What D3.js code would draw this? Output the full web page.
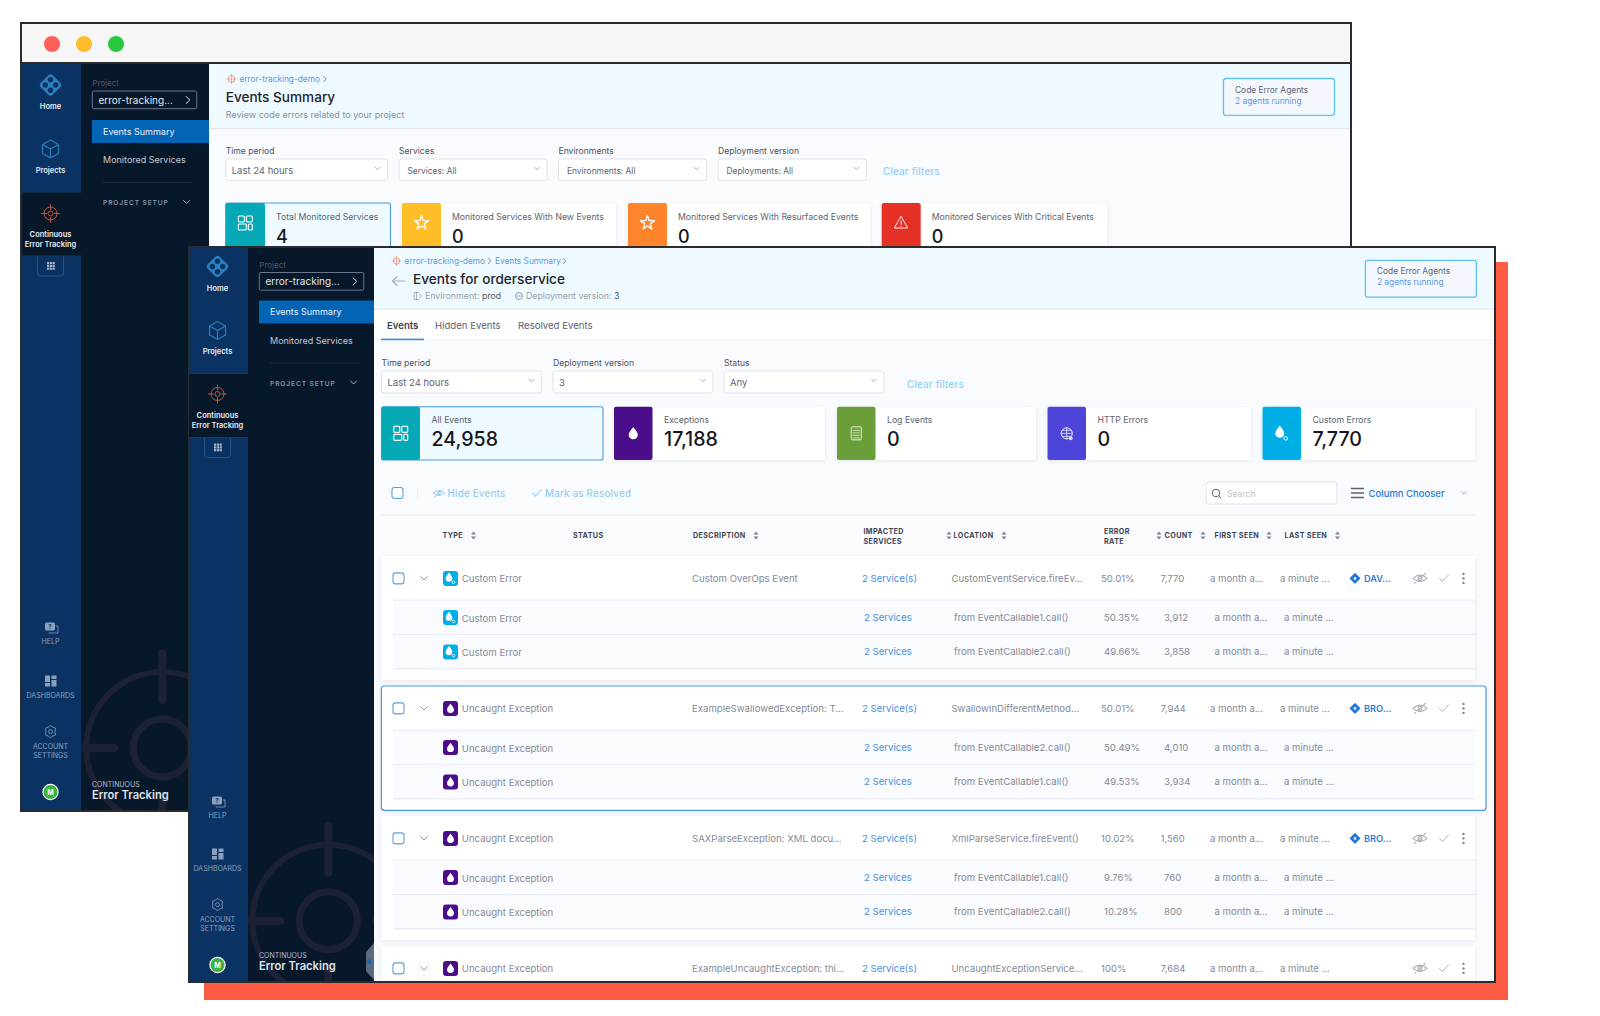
<!DOCTYPE html>
<html>
<head>
<meta charset="utf-8">
<script src="https://cdn.jsdelivr.net/npm/d3@7/dist/d3.min.js"></script>
<style>
  html, body { margin: 0; padding: 0; background: #fff; }
  text { font-family: Inter, "Noto Sans", sans-serif; }
  .lifted { filter: drop-shadow(0 1px 2px rgba(40, 50, 80, 0.1)); }
</style>
</head>
<body>
<svg id="view" width="1600" height="1016"></svg>
<script>
// Data
var summaryLabels = ["Total Monitored Services", "Monitored Services With New Events", "Monitored Services With Resurfaced Events", "Monitored Services With Critical Events"];
var summaryValues = [4, 0, 0, 0];
var summaryColors = ["#04a9b5", "#ffbd26", "#ff842b", "#e53026"];
var summaryIcons = ["grid", "star", "star", "warn"];

var filterLabels1 = ["Time period", "Services", "Environments", "Deployment version"];
var filterValues1 = ["Last 24 hours", "Services: All", "Environments: All", "Deployments: All"];
var filterLabels2 = ["Time period", "Deployment version", "Status"];
var filterValues2 = ["Last 24 hours", "3", "Any"];
var tabLabels = ["Events", "Hidden Events", "Resolved Events"];

var cardLabels = ["All Events", "Exceptions", "Log Events", "HTTP Errors", "Custom Errors"];
var cardValues = [24958, 17188, 0, 0, 7770];
var cardColors = ["#04a9b5", "#4b0e8b", "#6a9e38", "#4d45da", "#00aee6"];
var cardIcons = ["grid", "drop", "doc", "globe", "custom"];

var eventTypes = ["Custom Error", "Uncaught Exception", "Uncaught Exception", "Uncaught Exception"];
var eventDescriptions = ["Custom OverOps Event", "ExampleSwallowedException: T...", "SAXParseException: XML docu...", "ExampleUncaughtException: thi..."];
var eventLocations = ["CustomEventService.fireEv...", "SwallowInDifferentMethod...", "XmlParseService.fireEvent()", "UncaughtExceptionService..."];
var eventRates = ["50.01%", "50.01%", "10.02%", "100%"];
var eventCounts = [7770, 7944, 1560, 7684];
var eventBadges = ["DAV...", "BRO...", "BRO...", ""];
var subLocations = [
  ["from EventCallable1.call()", "from EventCallable2.call()"],
  ["from EventCallable2.call()", "from EventCallable1.call()"],
  ["from EventCallable1.call()", "from EventCallable2.call()"]
];
var subRates = [["50.35%", "49.66%"], ["50.49%", "49.53%"], ["9.76%", "10.28%"]];
var subCounts = [[3912, 3858], [4010, 3934], [760, 800]];

var svg = d3.select("#view");
var defs = svg.append("defs");
var NAV = "#0a3364", PANEL = "#07182b", BORDER = "#2b2b2e", BAND = "#eefaff", BODY = "#f9fbfe";
var fmt = d3.format(",");

function txt(g, x, y, s, o)
{
  o = o || {};
  return g.append("text").attr("x", x).attr("y", y)
    .attr("font-size", o.size || 9.6)
    .attr("font-weight", o.weight || 400)
    .attr("fill", o.fill || "#6b7280")
    .attr("text-anchor", o.anchor || "start")
    .attr("letter-spacing", o.ls || 0)
    .text(s);
}
function box(g, x, y, w, h, fill, stroke, r)
{
  return g.append("rect").attr("x", x).attr("y", y).attr("width", w).attr("height", h)
    .attr("rx", r || 0).attr("fill", fill).attr("stroke", stroke || "none");
}
function rule(g, x1, x2, y, c)
{
  g.append("line").attr("x1", x1).attr("x2", x2).attr("y1", y).attr("y2", y).attr("stroke", c || "#e3e6ee");
}
function at(g, x, y, s)
{
  return g.append("g").attr("transform", "translate(" + x + "," + y + ")" + (s ? " scale(" + s + ")" : ""));
}
function stroked(g, d, c, w)
{
  return g.append("path").attr("d", d).attr("fill", "none").attr("stroke", c).attr("stroke-width", w || 1)
    .attr("stroke-linecap", "round").attr("stroke-linejoin", "round");
}
function chevron(g, x, y, c, size, dir)
{
  var s = size || 3;
  var d = dir === "right" ? "M" + (x - s / 2) + "," + (y - s) + " L" + (x + s / 2) + "," + y + " L" + (x - s / 2) + "," + (y + s)
    : "M" + (x - s) + "," + (y - s / 2) + " L" + x + "," + (y + s / 2) + " L" + (x + s) + "," + (y - s / 2);
  stroked(g, d, c, 1);
}
function sortIcon(g, x, y)
{
  g.append("path").attr("fill", "#7d828e")
    .attr("d", "M" + (x - 2.5) + "," + (y - 1) + " L" + x + "," + (y - 4) + " L" + (x + 2.5) + "," + (y - 1) + "Z M" +
      (x - 2.5) + "," + (y + 1) + " L" + x + "," + (y + 4) + " L" + (x + 2.5) + "," + (y + 1) + "Z");
}
function dropPath(r) { return "M0," + (-r * 1.4) + " C" + (r * 0.6) + "," + (-r * 0.6) + " " + r + "," + (-r * 0.1) + " " + r + "," + (r * 0.3) + " A" + r + "," + r + " 0 1 1 " + (-r) + "," + (r * 0.3) + " C" + (-r) + "," + (-r * 0.1) + " " + (-r * 0.6) + "," + (-r * 0.6) + " 0," + (-r * 1.4) + "Z"; }

// White glyphs that sit on the coloured card squares
function glyph(g, name, x, y, s)
{
  var i = at(g, x, y, s);
  if (name === "grid")
  {
    [[-7, -7, 6, 6], [1, -7, 6, 6], [-7, 1, 8, 6], [3, 1, 4, 6]].forEach(function(r) {
      box(i, r[0], r[1], r[2], r[3], "none", "#fff", 1).attr("stroke-width", 1.1);
    });
  }
  else if (name === "star")
  {
    stroked(i, d3.symbol().type(d3.symbolStar).size(62)(), "#fff", 1.3);
  }
  else if (name === "warn")
  {
    stroked(i, "M0,-6.5 L6.5,5 L-6.5,5Z M0,-2.5 L0,1.5 M0,3.4 L0,3.6", "#fff", 0.9);
  }
  else if (name === "drop")
  {
    i.append("path").attr("d", dropPath(4.6)).attr("fill", "#fff");
  }
  else if (name === "doc")
  {
    box(i, -5, -6.5, 10, 13, "none", "#e8f0dc", 1);
    stroked(i, "M-3,-3 H3 M-3,-0.5 H3 M-3,2 H3 M-3,4.5 H3", "#e8f0dc", 0.8);
  }
  else if (name === "globe")
  {
    i.append("circle").attr("r", 5.5).attr("fill", "none").attr("stroke", "#fff").attr("stroke-width", 0.9);
    stroked(i, "M-5.5,0 H5.5 M0,-5.5 V5.5 M-4.5,-3 H4.5 M-4.5,3 H4.5", "#fff", 0.7);
    i.append("circle").attr("cx", 4).attr("cy", 5).attr("r", 2).attr("fill", "#d7d5f8");
  }
  else if (name === "custom")
  {
    i.append("path").attr("d", dropPath(4.5)).attr("fill", "#fff").attr("transform", "translate(-2,-1.5)");
    i.append("circle").attr("cx", 4).attr("cy", 5).attr("r", 2.8).attr("fill", "#00aee6");
    i.append("circle").attr("cx", 4).attr("cy", 5).attr("r", 1.8).attr("fill", "none").attr("stroke", "#fff").attr("stroke-width", 1);
  }
}
function chromeHide(g, x, y, c, s)
{
  var i = at(g, x, y, s);
  stroked(i, "M-7,0 Q0,-6.5 7,0 Q0,6.5 -7,0Z M-5.5,5 L5.5,-5 M-2,0 A2,2 0 1 1 2,0 A2,2 0 1 1 -2,0", c, 1.2);
}
function check(g, x, y, c, w)
{
  stroked(g, "M" + (x - 4.5) + "," + y + " L" + (x - 1.5) + "," + (y + 3) + " L" + (x + 4.5) + "," + (y - 3.5), c, w || 1);
}
function targetMark(g, cx, cy, c)
{
  var i = at(g, cx, cy);
  i.append("circle").attr("r", 76).attr("fill", "none").attr("stroke", c).attr("stroke-width", 6);
  i.append("circle").attr("r", 29).attr("fill", "none").attr("stroke", c).attr("stroke-width", 7);
  [[0, -95, 0, -48], [0, 48, 0, 95], [-79, 0, -48, 0], [48, 0, 79, 0]].forEach(function(t) {
    i.append("line").attr("x1", t[0]).attr("y1", t[1]).attr("x2", t[2]).attr("y2", t[3])
      .attr("stroke", c).attr("stroke-width", 8).attr("stroke-linecap", "round");
  });
}

// Left navigation and project panel. Coordinates are those of the back window.
function drawSidebar(parent, dx, dy, bottomDy)
{
  var g = at(parent, dx, dy);
  var navLabel = { size: 7.5, weight: 600, fill: "#e8edf3", anchor: "middle" };
  var front = bottomDy ? 1 : 0;

  // Logo
  var logo = at(g, 50.5, 85);
  box(logo, -8.5, -8.5, 17, 17, "#2d7fc1", null, 3.5).attr("transform", "rotate(45)");
  [[0, -5.2], [5.2, 0], [0, 5.2], [-5.2, 0]].forEach(function(p) {
    logo.append("circle").attr("cx", p[0]).attr("cy", p[1]).attr("r", 2.7).attr("fill", NAV);
  });
  txt(g, 50.5, 109, "Home", navLabel);

  // Projects cube
  var cube = at(g, 50.5, 149);
  stroked(cube, "M0,-9 L8,-4.5 V4.5 L0,9 L-8,4.5 V-4.5Z M-8,-4.5 L0,0 L8,-4.5 M0,0 V9", "#2d7fc1", 1.1);
  txt(g, 50.5, 173 - front, "Projects", navLabel);

  // Selected module
  box(g, 22, 192, 59, 64, PANEL);
  rule(g, 22, 81, 192, "#133a62");
  var tc = at(g, 50.5, 213.5 - front);
  tc.append("circle").attr("r", 6.5).attr("fill", "none").attr("stroke", "#b8553a");
  tc.append("circle").attr("r", 2.5).attr("fill", "none").attr("stroke", "#b8553a");
  stroked(tc, "M0,-9 V-4 M0,4 V9 M-9,0 H-4 M4,0 H9", "#b8553a", 1);
  box(g, 37.5, 250, 26, 26, NAV, "#2b5588", 3);
  box(g, 22, 245, 59, 11, PANEL);
  txt(g, 50.5, 237 - front, "Continuous", navLabel);
  txt(g, 50.5, 247 - front, "Error Tracking", navLabel);
  rule(g, 22, 81, 256, "#133a62");
  var grid = at(g, 47, 262);
  d3.range(9).forEach(function(n) {
    box(grid, (n % 3) * 2.8, Math.floor(n / 3) * 2.8, 2.2, 2.2, "#aab4c4");
  });

  // Project panel
  txt(g, 92.3, 86, "Project", { size: 8, fill: "#4e5a6b" });
  box(g, 92.3, 91, 104.5, 17.7, "none", "#69758a", 1.5);
  txt(g, 98.5, 103.5, "error-tracking...", { size: 10, fill: "#e3e7ec" });
  chevron(g, 188, 100, "#e3e7ec", 3.5, "right");
  box(g, 92, 120 - front, 117, 23, "#0364b5");
  txt(g, 103, 134.5 - front, "Events Summary", { size: 9, fill: "#e6f1fb" });
  txt(g, 103, 163 - front, "Monitored Services", { size: 9, fill: "#c4cad4" });
  rule(g, 103, 192, 182.5 - front, "#1b2b41");
  txt(g, 103, 205 - front, "PROJECT SETUP", { size: 6.6, weight: 600, fill: "#8a93a1", ls: 0.9 });
  chevron(g, 186.5, 202 - front, "#a9b1bd", 3);

  // Bottom of the nav, pinned to the window bottom
  var b = at(parent, dx, dy + bottomDy);
  var muted = { size: 7, fill: "#8ba0bd", anchor: "middle" };
  var help = at(b, 51, 628 + front);
  box(help, -6, -5.5, 10, 8, "#8ba0bd", null, 1.5);
  stroked(help, "M5,-2 H7 V5 H-2", "#8ba0bd", 0.8);
  txt(help, -1, 1, "?", { size: 6, weight: 700, fill: NAV, anchor: "middle" });
  txt(b, 50.5, 644 + front, "HELP", muted);
  var dash = at(b, 50.5, 681);
  box(dash, -5.5, -5.5, 5, 6.5, "#8ba0bd");
  box(dash, 1, -5.5, 5, 3.5, "#8ba0bd");
  box(dash, -5.5, 2, 5, 3.5, "#8ba0bd");
  box(dash, 1, -1, 5, 6.5, "#8ba0bd");
  txt(b, 50.5, 698, "DASHBOARDS", muted);
  var gear = at(b, 50.5, 731.6);
  gear.append("circle").attr("r", 2).attr("fill", "none").attr("stroke", "#8ba0bd").attr("stroke-width", 0.8);
  stroked(gear, "M0,-6 L2,-4.6 L5,-3.4 L4.6,0 L5,3.4 L2,4.6 L0,6 L-2,4.6 L-5,3.4 L-4.6,0 L-5,-3.4 L-2,-4.6Z", "#8ba0bd", 0.8);
  txt(b, 50.5, 749, "ACCOUNT", muted);
  txt(b, 50.5, 758, "SETTINGS", muted);
  b.append("circle").attr("cx", 50.5).attr("cy", 792).attr("r", 7.6).attr("fill", "#3cb043").attr("stroke", "#fff").attr("stroke-width", 1.2);
  txt(b, 50.5, 795, "M", { size: 7, weight: 700, fill: "#fff", anchor: "middle" });

  txt(b, 92, 787 - front * 2, "CONTINUOUS", { size: 7, fill: "#b6bfcc" });
  txt(b, 92, 799 - front * 2, "Error Tracking", { size: 11.2, weight: 600, fill: "#dfe3ea" });
}

// Coloured backdrop behind the front window
box(svg, 204, 262, 1304, 738, "#ff5c45");

/* ---------- back window ---------- */
var win1 = svg.append("g");
box(win1, 21, 23, 1330, 788, "#fff", BORDER).attr("stroke-width", 2);
box(win1, 22, 24, 1328, 38.5, "#f6f6f6");
box(win1, 22, 62, 1328, 2, BORDER);
[["#ff5f57", 52], ["#ffbd2e", 84], ["#28c93f", 116]].forEach(function(l) {
  win1.append("circle").attr("cx", l[1]).attr("cy", 44).attr("r", 8).attr("fill", l[0]);
});
box(win1, 22, 64, 59, 746, NAV);
box(win1, 81, 64, 128, 746, PANEL);
defs.append("clipPath").attr("id", "clip1").append("rect").attr("x", 81).attr("y", 64).attr("width", 128).attr("height", 746);
defs.append("clipPath").attr("id", "clip2").append("rect").attr("x", 248).attr("y", 248).attr("width", 126).attr("height", 733);
targetMark(win1.append("g").attr("clip-path", "url(#clip1)"), 162.3, 748, "#1c2136");
drawSidebar(win1, 0, 0, 0);

box(win1, 209, 64, 1141, 746, BODY);
box(win1, 209, 64, 1141, 64.5, BAND);
rule(win1, 209, 1350, 128.7);
var crumb1 = at(win1, 231.5, 79);
crumb1.append("circle").attr("r", 3.4).attr("fill", "none").attr("stroke", "#e89a7c");
stroked(crumb1, "M-4.5,0 H4.5 M0,-4.5 V4.5", "#e89a7c", 0.7);
txt(win1, 239.5, 82, "error-tracking-demo", { size: 8.3, fill: "#5a9ae0" });
chevron(win1, 325, 79, "#7b8088", 2.5, "right");
txt(win1, 225.7, 102, "Events Summary", { size: 13.6, weight: 500, fill: "#22232b" });
txt(win1, 225.7, 118, "Review code errors related to your project", { size: 9, fill: "#8b909b" });

// Agents box of both windows shares a shape
function agents(g, x, y)
{
  box(g, x, y, 111, 36.8, "#f4f8fe", "#5cc3ea", 2.5).attr("stroke-width", 1.3);
  txt(g, x + 11.5, y + 14, "Code Error Agents", { size: 8.4, fill: "#5f6470" });
  txt(g, x + 11.5, y + 25, "2 agents running", { size: 8.4, fill: "#5b9bdd" });
}
agents(win1, 1223.5, 78.5);

function select(g, x, y, w, h, label, value, size)
{
  txt(g, x, y - 5, label, { size: 8.6, fill: "#4b5160" });
  box(g, x, y, w, h, "#fff", "#dfe3ea", 2.5);
  txt(g, x + 6 + (size ? 2.5 : 0), y + 14.8, value, { size: size || 9.5, fill: "#5c6370" });
  chevron(g, x + w - 10, y + 9.5, "#a6abb5", 2.4);
}
var sel1X = [225.7, 399, 558.5, 718], sel1W = [161.8, 148, 148.2, 148.5];
filterLabels1.forEach(function(l, i) {
  select(win1, sel1X[i], 159, sel1W[i], 21.7, l, filterValues1[i], i ? 8.4 : null);
});
txt(win1, 883, 175, "Clear filters", { size: 9.8, weight: 500, fill: "#93cef5", ls: 0.2 });

function card(g, x, y, w, h, iconW, color, label, value, labelX, selected, icon, labelY, valueY, valueSize)
{
  var c = box(g, x, y, w, h, selected ? BAND : "#fff", selected ? "#4a9ae0" : null, 2);
  if (selected) { c.attr("stroke-width", 1.1); } else { c.attr("class", "lifted"); }
  box(g, x, y, iconW, h, color, null, 2);
  glyph(g, icon, x + iconW / 2, y + h / 2 + (h < 53 ? -5 : 0), 1);
  txt(g, labelX, labelY, label, { size: 8.7, fill: "#5c6370" });
  txt(g, labelX, valueY, value, { size: valueSize, weight: 500, fill: "#15171d" });
}
var sumX = [225.7, 402, 628, 881.7], sumW = [164.8, 214, 242, 225.6];
var sumIconW = d3.scaleOrdinal().domain(summaryLabels).range([39.3, 39, 39, 39]);
summaryLabels.forEach(function(l, i) {
  card(win1, sumX[i], 203, sumW[i], 50, sumIconW(l), summaryColors[i], l, summaryValues[i], sumX[i] + sumIconW(l) + 11, i === 0, summaryIcons[i], 220, 243, 18);
});

/* ---------- front window ---------- */
var win2 = svg.append("g");
box(win2, 189, 247, 1306, 735, "#fff", BORDER).attr("stroke-width", 2);
box(win2, 190, 248, 58, 733, NAV);
box(win2, 248, 248, 126, 733, PANEL);
targetMark(win2.append("g").attr("clip-path", "url(#clip2)"), 328.3, 920.7, "#1c2136");
drawSidebar(win2, 167, 181.5, -8.5);
win2.append("path").attr("fill", "#5a6b80").attr("d", "M374,943 L366,952 V971 L374,980Z");
win2.append("path").attr("fill", "#1e60b0").attr("d", "M366,961.5 L371,958.5 V964.5Z");

box(win2, 374, 248, 1120, 733, BODY);
box(win2, 374, 248, 1120, 61, BAND);
rule(win2, 374, 1494, 309);
var crumb2 = at(win2, 396.5, 261);
crumb2.append("circle").attr("r", 3.2).attr("fill", "none").attr("stroke", "#e89a7c");
stroked(crumb2, "M-4.5,0 H4.5 M0,-4.5 V4.5", "#e89a7c", 0.7);
txt(win2, 404.6, 264, "error-tracking-demo", { size: 8.3, fill: "#5a9ae0" });
chevron(win2, 489.5, 261, "#7b8088", 2.5, "right");
txt(win2, 495, 264, "Events Summary", { size: 8.3, fill: "#5a9ae0" });
chevron(win2, 564.5, 261, "#7b8088", 2.5, "right");
stroked(win2, "M405,281 H392.5 M397,276.5 L392.5,281 L397,285.5", "#a8adb8", 1.1);
txt(win2, 413, 283.7, "Events for orderservice", { size: 13.6, weight: 500, fill: "#22232b" });
var envIcon = at(win2, 417.5, 296);
stroked(envIcon, "M-3,-3.5 H1 L4,0 L1,3.5 H-3 Z M-1,-3.5 V3.5", "#9ba0ab", 0.8);
var depIcon = at(win2, 519, 296);
depIcon.append("circle").attr("r", 3.5).attr("fill", "none").attr("stroke", "#7f8590").attr("stroke-width", 0.8);
stroked(depIcon, "M-1.8,0 H1.8", "#7f8590", 0.8);
var envText = txt(win2, 425, 299, "Environment: ", { size: 8.8, fill: "#9ba0ab" });
envText.append("tspan").attr("fill", "#55595f").text("prod");
var depText = txt(win2, 526, 299, "Deployment version: ", { size: 8.8, fill: "#9ba0ab" });
depText.append("tspan").attr("fill", "#55595f").text("3");
agents(win2, 1365.4, 260.4);

// Tabs
box(win2, 374, 310, 1120, 30, "#fff");
rule(win2, 374, 1494, 340, "#eef0f4");
var tabX = [387, 435, 518];
tabLabels.forEach(function(t, i) {
  txt(win2, tabX[i], 329, t, { size: 9.6, weight: i ? 400 : 600, fill: i ? "#5a6070" : "#3a3f4a" });
});
box(win2, 381, 338.6, 43, 1.6, "#3d8ddb");

// Filters
var sel2X = [381.5, 553, 724];
filterLabels2.forEach(function(l, i) {
  select(win2, sel2X[i], 371, 160, 22, l, filterValues2[i]);
});
txt(win2, 907, 388, "Clear filters", { size: 9.8, weight: 500, fill: "#93cef5", ls: 0.2 });

// Event type cards
var cardX = [381.5, 614, 837, 1047.5, 1262.5], cardW = [221.5, 211, 199, 203.5, 212.5];
cardLabels.forEach(function(l, i) {
  card(win2, cardX[i], 406.7, cardW[i], 53.3, 38.5, cardColors[i], l, fmt(cardValues[i]), cardX[i] + 50, i === 0, cardIcons[i], 423, 445.7, 19.6);
});

// Toolbar
function checkbox(g, x, cy)
{
  box(g, x, cy - 5.5, 11, 11, "#fff", "#5a9ee0", 2.5).attr("stroke-width", 1.1);
}
checkbox(win2, 392, 493);
win2.append("line").attr("x1", 417.5).attr("x2", 417.5).attr("y1", 488).attr("y2", 499).attr("stroke", "#eef0f4");
chromeHide(win2, 439, 493, "#93cef5", 0.8);
txt(win2, 447.5, 496.7, "Hide Events", { size: 9.8, weight: 500, fill: "#93cef5", ls: 0.2 });
check(win2, 537, 493, "#93cef5", 1.1);
txt(win2, 545, 496.7, "Mark as Resolved", { size: 9.8, weight: 500, fill: "#93cef5", ls: 0.2 });
box(win2, 1206, 482, 131, 22, "#fff", "#dfe3ea", 2.5);
var lens = at(win2, 1216, 493);
lens.append("circle").attr("r", 3.8).attr("fill", "none").attr("stroke", "#5c6370");
stroked(lens, "M2.8,2.8 L5,5", "#5c6370", 1);
txt(win2, 1227, 496.5, "Search", { size: 8.6, fill: "#c0c4cc" });
stroked(win2, "M1351.5,488.5 H1363.5 M1351.5,493 H1363.5 M1351.5,497.5 H1363.5", "#5c6370", 1.4);
txt(win2, 1368.6, 496.7, "Column Chooser", { size: 9.5, weight: 500, fill: "#2a7dd6" });
chevron(win2, 1464, 493, "#a6abb5", 2.4);
rule(win2, 381, 1475, 515, "#e8ebf0");

// Table header
var headLabel = { size: 7.2, weight: 700, fill: "#3f4450", ls: 0.35 };
var headNames = [["TYPE"], ["STATUS"], ["DESCRIPTION"], ["IMPACTED", "SERVICES"], ["LOCATION"], ["ERROR", "RATE"], ["COUNT"], ["FIRST SEEN"], ["LAST SEEN"]];
var headX = [442.5, 573, 693, 863.5, 953.6, 1104, 1164.6, 1214.6, 1284.6];
var headSort = [473.5, null, 756, 949, 1004, 1159, 1203, 1269, 1337.5];
headNames.forEach(function(h, i) {
  h.forEach(function(line, k) {
    txt(win2, headX[i], h.length > 1 ? 533.5 + k * 10 : 538, line, headLabel);
  });
  if (headSort[i]) { sortIcon(win2, headSort[i], 535.5); }
});

// Table rows: one white group per event, each with up to two lighter sub rows
var groupY = d3.scaleLinear().domain([0, 1]).range([556, 686]);
var typeColor = d3.scaleOrdinal().domain(["Custom Error", "Uncaught Exception"]).range(["#00aee6", "#4b0e8b"]);
var typeGlyph = d3.scaleOrdinal().domain(["Custom Error", "Uncaught Exception"]).range(["custom", "drop"]);
var cellText = { size: 9.6, fill: "#858a96" };
var linkText = { size: 9.6, fill: "#4a90dc" };

function typeCell(g, cy, type)
{
  box(g, 443, cy - 7.5, 15, 15, typeColor(type), null, 3);
  glyph(g, typeGlyph(type), 450.5, cy, 0.75);
  txt(g, 461.8, cy + 4, type, cellText);
}
defs.append("clipPath").attr("id", "clipRows").append("rect").attr("x", 374).attr("y", 516).attr("width", 1120).attr("height", 465);
var rows = win2.append("g").attr("clip-path", "url(#clipRows)");

eventTypes.forEach(function(type, i) {
  var top = groupY(i);
  var cy = top + 22.4;
  var g = rows.append("g");
  if (i === 1)
  {
    box(g, 381.4, top, 1104.6, 124.3, "#fff", "#4a9ae0", 3).attr("stroke-width", 1.2).attr("class", "lifted");
  }
  else
  {
    box(g, 381.4, top, 1093.6, i === 3 ? 60 : 124, "#fff").attr("class", "lifted");
  }
  checkbox(g, 393, cy);
  chevron(g, 424, cy, "#8f949e", 3.2);
  typeCell(g, cy, type);
  txt(g, 692, cy + 3.3, eventDescriptions[i], cellText);
  txt(g, 862, cy + 3.3, "2 Service(s)", linkText);
  txt(g, 951.4, cy + 3.3, eventLocations[i], cellText);
  txt(g, 1101, cy + 3.3, eventRates[i], cellText);
  txt(g, 1160.5, cy + 3.3, fmt(eventCounts[i]), cellText);
  txt(g, 1210, cy + 3.3, "a month a...", cellText);
  txt(g, 1280, cy + 3.3, "a minute ...", cellText);
  if (eventBadges[i])
  {
    box(g, 1351, cy - 4, 8, 8, "#1f78d8", null, 1).attr("transform", "rotate(45 1355 " + cy + ")");
    box(g, 1353.8, cy - 1.2, 2.4, 2.4, "#fff");
    txt(g, 1364, cy + 3.3, eventBadges[i], { size: 9.2, weight: 600, fill: "#2a7dd6" });
  }
  chromeHide(g, 1420, cy, "#aeb2bb");
  check(g, 1444, cy, "#aeb2bb");
  [-4.5, 0, 4.5].forEach(function(d) {
    g.append("circle").attr("cx", 1463.5).attr("cy", cy + d).attr("r", 1.2).attr("fill", "#7d828e");
  });

  if (i < subLocations.length)
  {
    rule(g, 393, 1475, top + 44.2);
    [39.3, 73.6].forEach(function(offset, k) {
      var sy = top + 22.3 + offset;
      box(g, 393, sy - 17.1, 1082, 34, BODY);
      typeCell(g, sy, type);
      txt(g, 864, sy + 3, "2 Services", linkText);
      txt(g, 954, sy + 3.3, subLocations[i][k], cellText);
      txt(g, 1104, sy + 3.3, subRates[i][k], cellText);
      txt(g, 1164, sy + 3.3, fmt(subCounts[i][k]), cellText);
      txt(g, 1214.5, sy + 3.3, "a month a...", cellText);
      txt(g, 1284, sy + 3.3, "a minute ...", cellText);
      rule(g, 393, 1475, sy + 17);
    });
  }
});
</script>
</body>
</html>
